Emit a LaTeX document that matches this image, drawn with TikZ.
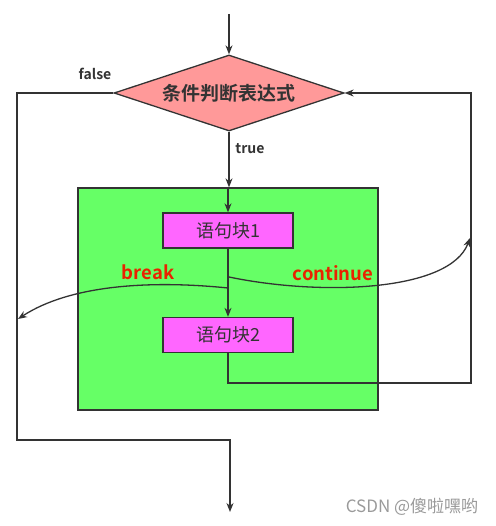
\documentclass[tikz,border=0pt]{standalone}
\usepackage{fontspec}
\setmainfont{Noto Sans CJK SC}[BoldFont={Noto Sans CJK SC Bold}]
\usetikzlibrary{shapes.geometric,arrows.meta}
\definecolor{linec}{HTML}{333333}
\definecolor{condfill}{HTML}{FF9999}
\definecolor{loopfill}{HTML}{66FF66}
\definecolor{blockfill}{HTML}{FF66FF}
\definecolor{redlab}{HTML}{EA2200}
\definecolor{wm}{HTML}{9A9A9A}
\tikzset{
  arr/.style={draw=linec, line width=1.3pt, -{Stealth[length=9pt,width=7pt]}},
  ln/.style={draw=linec, line width=1.3pt},
  cond/.style={shape=diamond, aspect=3, draw=linec, line width=1.3pt, fill=condfill, inner sep=0pt, minimum width=230pt, minimum height=76pt, font=\bfseries\fontsize{19}{21}\selectfont, text=linec},
  loopbox/.style={rectangle, draw=linec, line width=1.3pt, fill=loopfill, minimum width=300pt, minimum height=222pt},
  blockbox/.style={rectangle, draw=linec, line width=1.3pt, fill=blockfill, minimum width=130pt, minimum height=35pt, inner sep=0pt, font=\fontsize{18}{20}\selectfont, text=linec},
  flab/.style={font=\bfseries\fontsize{14}{16}\selectfont, text=linec},
  rlab/.style={font=\bfseries\fontsize{18.5}{20}\selectfont, text=redlab}
}
\begin{document}
\begin{tikzpicture}[x=1pt,y=-1pt]
\useasboundingbox (0,0) rectangle (495,526);
\node[loopbox] (loop) at (228,299) {};
\node[cond] (cond) at (229,93) {条件判断表达式};
\node[blockbox] (b1) at (228,230.5) {语句块1};
\node[blockbox] (b2) at (228,335) {语句块2};
\coordinate (start) at (229,14);
\coordinate (rc) at (471,383);
\coordinate (fl) at (17,440);
\coordinate (endp) at (230,512);
\coordinate (bs) at (228,288);
\coordinate (bt) at (18,319);
\coordinate (cs) at (229,277);
\coordinate (ct) at (470,238);
\draw[arr] (start) -- (cond.north);
\draw[arr] (cond.south) -- (cond.south |- loop.north);
\draw[arr] (b1.north |- loop.north) -- (b1.north);
\draw[arr] (b1.south) -- (b2.north);
\draw[arr] (b2.south) |- (rc) |- (cond.east);
\draw[arr] (cond.west) -| (fl) -| (endp);
\draw[arr] (bs) .. controls (150,280) and (70,285) .. (bt);
\draw[arr] (cs) .. controls (320,296) and (450,292) .. (ct);
\node[flab] (lfalse) at (95,74) {false};
\node[flab] (ltrue) at (250,149) {true};
\node[rlab] (lbreak) at (148,272) {break};
\node[rlab] (lcont) at (333,273) {continue};
\node[text=wm, font=\fontsize{17}{19}\selectfont] (wmark) at (412,507) {CSDN @傻啦嘿哟};
\end{tikzpicture}
\end{document}
